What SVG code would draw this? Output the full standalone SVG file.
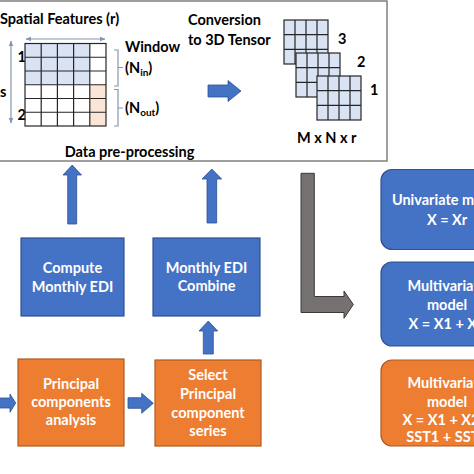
<svg xmlns="http://www.w3.org/2000/svg" width="474" height="474" viewBox="0 0 474 474">
<style>
.t{font-family:Lato,"Liberation Sans",Arial,sans-serif;font-weight:bold;font-size:14.5px;fill:#000}
.w{font-family:Lato,"Liberation Sans",Arial,sans-serif;font-weight:bold;font-size:14.5px;fill:#fff;text-anchor:middle}
.c{fill:#dae3f3;stroke:#262626;stroke-width:1.2}
.g{stroke:#262626;stroke-width:1.2;fill:none}
.bl{fill:#4472c4;stroke:#2f528f;stroke-width:1.2}
.or{fill:#ed7d31;stroke:#ae5a21;stroke-width:1.2}
.ba{fill:#4472c4;stroke:#2f528f;stroke-width:0.8}
.br{fill:none;stroke:#8497b0;stroke-width:1.2}
</style>
<defs>
<marker id="ah" viewBox="0 0 10 10" refX="9" refY="5" markerWidth="5" markerHeight="5" orient="auto-start-reverse">
<path d="M0,1 L10,5 L0,9 z" fill="#8497b0"/>
</marker>
<g id="layer">
<rect x="0" y="0" width="44" height="44" class="c"/>
<path class="g" d="M11,0V44M22,0V44M33,0V44M0,14.67H44M0,29.33H44"/>
</g>
</defs>
<rect width="474" height="474" fill="#fff"/>

<g id="panel">
<rect x="-2" y="1" width="389" height="160" fill="#fff" stroke="#7f7f7f" stroke-width="1.5"/>
<text class="t" x="0" y="23.5" font-size="15.5">Spatial Features (r)</text>
<text class="t" x="0" y="97">s</text>
<text class="t" x="17.5" y="62">1</text>
<text class="t" x="17.5" y="120">2</text>
<line class="br" x1="26" y1="39" x2="105" y2="39" marker-start="url(#ah)" marker-end="url(#ah)"/>
<line class="br" x1="11" y1="41" x2="11" y2="123" marker-start="url(#ah)" marker-end="url(#ah)"/>
<rect x="25" y="43.5" width="64.8" height="41.25" fill="#dae3f3"/>
<rect x="89.8" y="84.75" width="16.2" height="41.25" fill="#fbe5d6"/>
<rect x="25" y="43.5" width="81" height="82.5" class="g"/>
<path class="g" d="M41.2,43.5V126M57.4,43.5V126M73.6,43.5V126M89.8,43.5V126M25,57.25H106M25,71H106M25,84.75H106M25,98.5H106M25,112.25H106"/>
<path class="br" d="M114,50H118V86H114M118,67.5H123"/>
<path class="br" d="M114,89.5H118V126H114M118,108H123"/>
<text class="t" x="125" y="52">Window</text>
<text class="t" x="125" y="73">(N<tspan font-size="10" dy="3">in</tspan><tspan dy="-3">)</tspan></text>
<text class="t" x="125" y="113">(N<tspan font-size="10" dy="3">out</tspan><tspan dy="-3">)</tspan></text>
<text class="t" x="129.5" y="157" text-anchor="middle">Data pre-processing</text>
<polygon class="ba" points="208,85 228,85 228,80.5 241,91 228,101.5 228,97 208,97"/>
<text class="t" x="188" y="25">Conversion</text>
<text class="t" x="188" y="44.5">to 3D Tensor</text>
<use href="#layer" x="284" y="20"/>
<use href="#layer" x="296" y="53"/>
<use href="#layer" x="317" y="76"/>
<text class="t" x="338" y="44">3</text>
<text class="t" x="357" y="67">2</text>
<text class="t" x="370" y="95">1</text>
<text class="t" x="297" y="143">M x N x r</text>
</g>

<g id="connectors">
<polygon class="ba" points="67.7,224 67.7,175 63,175 72.2,165 81.5,175 76.7,175 76.7,224"/>
<polygon class="ba" points="207,223 207,179 202,179 211.8,169 221.7,179 216.7,179 216.7,223"/>
<polygon class="ba" points="203.3,354 203.3,331 199,331 208.3,321 217.7,331 213.3,331 213.3,354"/>
<polygon class="ba" points="-5,398 10,398 10,394 15.7,403 10,412.3 10,408 -5,408"/>
<polygon class="ba" points="128,397.7 141.7,397.7 141.7,393.3 153.3,403.3 141.7,413.3 141.7,408.3 128,408.3"/>
<polygon fill="#767171" stroke="#3b3838" stroke-width="1" points="301,173.3 314.3,173.3 314.3,296.5 344,296.5 344,291 353.3,304.5 344,318.3 344,312.5 301,312.5"/>
</g>

<g id="compute">
<rect x="21" y="238" width="103" height="78" class="bl"/>
<text class="w" x="72.5" y="273">Compute</text>
<text class="w" x="72.5" y="292">Monthly EDI</text>
</g>
<g id="combine">
<rect x="153" y="238" width="107" height="78" class="bl"/>
<text class="w" x="206.5" y="272.5">Monthly EDI</text>
<text class="w" x="206.5" y="291">Combine</text>
</g>
<g id="pca">
<rect x="18" y="359" width="106" height="87" class="or"/>
<text class="w" x="71" y="388.5">Principal</text>
<text class="w" x="71" y="407">components</text>
<text class="w" x="71" y="425">analysis</text>
</g>
<g id="select">
<rect x="155" y="360" width="106" height="86" class="or"/>
<text class="w" x="208" y="380">Select</text>
<text class="w" x="208" y="399">Principal</text>
<text class="w" x="208" y="417.5">component</text>
<text class="w" x="208" y="436">series</text>
</g>
<g id="univariate">
<rect x="381" y="169.5" width="140" height="80" rx="11" class="bl"/>
<text class="w" x="447" y="205">Univariate model</text>
<text class="w" x="447" y="224.5">X = Xr</text>
</g>
<g id="multivariate1">
<rect x="381" y="262" width="140" height="84" rx="11" class="bl"/>
<text class="w" x="447" y="291">Multivariate</text>
<text class="w" x="447" y="310">model</text>
<text class="w" x="447" y="328.5">X = X1 + X2</text>
</g>
<g id="multivariate2">
<rect x="381" y="360" width="140" height="86" rx="11" class="or"/>
<text class="w" x="447" y="388">Multivariate</text>
<text class="w" x="447" y="407">model</text>
<text class="w" x="447" y="425">X = X1 + X2 +</text>
<text class="w" x="447" y="442">SST1 + SST2</text>
</g>
</svg>
